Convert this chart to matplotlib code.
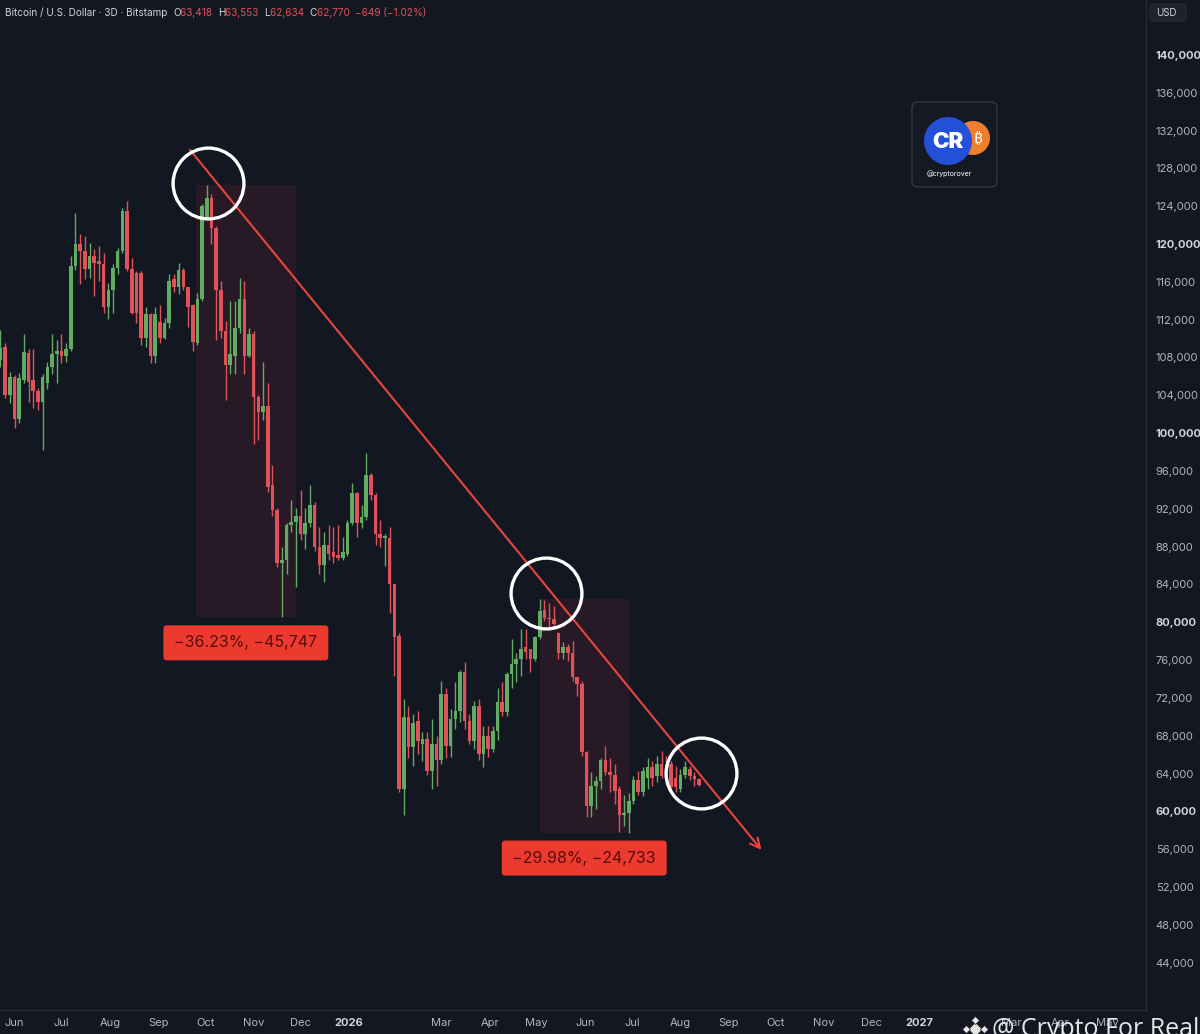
import numpy as np
import pandas as pd
import matplotlib
matplotlib.use('Agg')
import matplotlib.pyplot as plt
import matplotlib.dates as mdates
from matplotlib.patches import FancyBboxPatch, Circle

plt.rcParams['font.family'] = ['Inter', 'DejaVu Sans']

# BTC/USD 3D candles (Bitstamp), prices in thousands of USD
start_date = '2025-05-23'
opens = [107.7, 109.1, 104.0, 105.9, 101.5, 105.6, 108.5, 105.6, 104.5, 103.3,
         105.3, 107.0, 108.4, 108.7, 108.2, 108.9, 117.7, 120.0, 119.3, 117.4,
         118.7, 118.2, 117.9, 113.3, 115.1, 117.5, 119.3, 123.5, 117.4, 116.9,
         116.9, 110.1, 112.6, 108.2, 111.7, 110.1, 111.6, 116.3, 115.4, 117.2,
         115.4, 113.5, 109.5, 114.2, 122.7, 124.9, 121.7, 115.1, 110.8, 107.2,
         108.2, 111.1, 114.2, 108.2, 110.5, 103.8, 102.2, 102.9, 94.5, 91.9,
         86.3, 86.6, 90.3, 90.6, 91.2, 89.3, 90.5, 92.4, 88.0, 86.1,
         88.2, 87.4, 87.1, 86.8, 87.2, 90.5, 93.7, 90.5, 91.1, 95.6,
         93.5, 89.3, 88.9, 88.9, 84.0, 78.5, 62.4, 70.0, 66.8, 69.6,
         67.1, 67.7, 64.3, 67.1, 65.4, 72.4, 66.9, 69.8, 70.6, 74.7,
         69.6, 67.4, 71.1, 66.1, 68.0, 66.6, 68.5, 71.6, 70.5, 74.5,
         75.6, 76.1, 77.4, 77.2, 76.1, 78.4, 81.3, 80.5, 80.3, 78.9,
         76.8, 77.4, 76.8, 74.2, 73.5, 66.3, 60.6, 62.7, 63.2, 65.4,
         64.2, 63.8, 62.4, 59.6, 59.8, 61.1, 63.3, 62.1, 63.5, 64.7,
         63.7, 65.0, 64.9, 65.0, 63.5, 62.4, 63.8, 64.5, 63.7, 63.418]
highs = [110.9, 109.5, 106.5, 106.1, 106.4, 110.5, 108.9, 108.9, 104.8, 106.3,
         107.5, 110.5, 109.8, 110.5, 109.5, 118.7, 123.3, 121.1, 120.8, 120.1,
         119.5, 119.8, 119.0, 115.9, 117.9, 119.6, 123.8, 124.5, 118.5, 117.1,
         117.1, 113.3, 112.7, 113.3, 113.5, 112.2, 116.8, 116.8, 118.0, 117.5,
         115.4, 113.7, 114.8, 124.2, 126.272, 125.3, 121.9, 116.1, 111.9, 114.0,
         114.0, 116.4, 116.1, 111.1, 110.8, 104.0, 107.5, 105.3, 96.6, 92.1,
         88.0, 90.5, 92.9, 92.1, 94.0, 92.1, 94.5, 92.7, 90.1, 89.5,
         90.3, 90.1, 90.3, 89.0, 90.8, 94.7, 93.8, 92.4, 97.9, 95.8,
         93.7, 90.8, 89.3, 90.1, 84.0, 78.9, 71.9, 71.1, 70.3, 70.6,
         68.4, 68.4, 69.8, 68.0, 73.8, 73.1, 70.8, 73.7, 74.9, 75.8,
         70.3, 71.7, 71.9, 69.0, 69.0, 69.0, 73.1, 73.7, 74.7, 78.2,
         76.8, 79.3, 79.3, 77.2, 78.5, 82.5, 82.4, 82.0, 81.7, 79.0,
         77.9, 77.7, 78.0, 74.2, 73.8, 66.4, 64.2, 63.7, 65.6, 66.9,
         65.6, 65.0, 62.7, 61.7, 61.9, 63.7, 64.3, 64.7, 65.6, 65.3,
         65.9, 66.4, 65.9, 65.3, 64.8, 64.5, 65.3, 64.8, 64.2, 63.553]
lows = [107.0, 103.7, 103.2, 100.5, 101.1, 105.3, 103.3, 102.7, 102.4, 98.2,
        104.7, 106.3, 105.3, 107.4, 107.5, 108.7, 117.2, 115.8, 116.3, 116.4,
        114.5, 116.1, 112.7, 112.1, 112.7, 116.8, 119.1, 117.1, 112.6, 111.6,
        109.3, 109.1, 107.4, 107.4, 109.5, 110.0, 111.1, 114.9, 114.7, 115.1,
        111.2, 108.7, 109.3, 114.0, 122.6, 120.0, 109.8, 110.1, 103.5, 106.3,
        106.3, 110.6, 106.3, 108.0, 98.9, 99.3, 101.4, 93.8, 91.2, 85.8,
        80.525, 85.1, 89.5, 83.7, 88.7, 87.7, 90.1, 87.5, 85.1, 84.3,
        86.6, 86.3, 86.6, 86.6, 87.0, 90.3, 89.0, 90.0, 90.8, 92.9,
        88.2, 88.0, 85.9, 81.0, 74.3, 62.1, 59.6, 65.6, 64.8, 66.1,
        65.3, 63.8, 62.4, 62.7, 65.0, 65.6, 65.8, 68.7, 69.5, 68.7,
        67.1, 66.6, 65.4, 64.7, 65.8, 66.3, 67.5, 70.1, 70.1, 73.1,
        73.7, 74.3, 76.1, 74.7, 75.9, 78.2, 80.1, 79.5, 79.3, 76.1,
        76.1, 75.9, 73.8, 72.2, 65.9, 59.4, 59.4, 60.3, 62.4, 63.8,
        62.1, 60.8, 57.8, 58.5, 57.767, 60.8, 61.7, 61.6, 62.4, 62.7,
        63.1, 63.5, 63.5, 62.1, 62.1, 62.1, 63.5, 63.3, 62.7, 62.634]
closes = [109.0, 104.0, 105.9, 101.5, 105.8, 108.6, 105.4, 104.5, 103.3, 105.9,
          107.0, 108.4, 108.7, 108.2, 108.9, 117.7, 120.0, 119.3, 117.4, 118.7,
          118.0, 117.9, 113.3, 115.1, 117.5, 119.3, 123.5, 117.4, 112.7, 112.7,
          110.1, 112.6, 108.2, 112.6, 110.1, 111.6, 116.1, 115.4, 117.2, 115.4,
          113.3, 109.6, 114.2, 124.0, 124.9, 121.7, 115.1, 110.8, 107.2, 108.4,
          111.1, 114.2, 108.2, 110.5, 103.8, 102.2, 102.9, 94.3, 91.9, 86.3,
          86.6, 90.3, 90.6, 91.2, 89.3, 90.5, 92.4, 88.0, 86.1, 88.2,
          87.2, 86.9, 86.8, 87.4, 90.5, 93.7, 90.5, 91.1, 95.6, 93.5,
          89.3, 88.9, 89.1, 84.0, 78.4, 62.4, 70.0, 66.8, 69.3, 67.4,
          67.7, 64.3, 67.1, 65.4, 72.4, 66.9, 69.8, 70.6, 74.7, 69.6,
          67.4, 71.1, 66.1, 68.0, 66.6, 68.5, 71.6, 70.5, 74.5, 75.6,
          76.1, 77.2, 76.9, 76.1, 78.4, 81.2, 80.5, 80.3, 79.8, 76.8,
          77.4, 76.8, 74.2, 73.5, 66.3, 60.6, 62.7, 63.2, 65.4, 64.2,
          63.8, 62.2, 59.6, 59.8, 61.1, 63.3, 62.1, 64.3, 64.7, 63.5,
          65.0, 63.7, 64.2, 62.6, 62.6, 63.8, 64.7, 63.7, 63.419, 62.770]

# drawdown boxes: start, end, top, bottom
range_starts = ['2025-09-25', '2026-05-03']
range_ends = ['2025-11-28', '2026-06-29']
range_tops = [126272, 82500]
range_bottoms = [80525, 57767]

# white circles (date, price) and trend line (start, end)
circle_dates = ['2025-10-03', '2026-05-07', '2026-08-14']
circle_prices = [126500, 83100, 64100]
trend_dates = ['2025-09-20', '2026-09-23']
trend_prices = [130200, 55700]

price_ticks = list(range(44000, 140001, 4000))

bg = '#131722'
up = '#62ab62'
down = '#e0525a'
txt = '#b2b5be'
line_red = '#e8463c'

o = np.array(opens) * 1000
h = np.array(highs) * 1000
l = np.array(lows) * 1000
c = np.array(closes) * 1000
dates = pd.date_range(start_date, periods=len(o), freq='3D')
x = mdates.date2num(dates)

fig = plt.figure(figsize=(12, 10.34), dpi=100, facecolor=bg)
ax = fig.add_axes([0, 24 / 1034, 1146 / 1200, 1010 / 1034], facecolor=bg)

# shaded drawdown ranges + labels
for s, e, top, bot in zip(range_starts, range_ends, range_tops, range_bottoms):
    xs, xe = mdates.date2num(pd.Timestamp(s)), mdates.date2num(pd.Timestamp(e))
    ax.fill_between([xs, xe], bot, top, color='#f23645', alpha=0.09, lw=0, zorder=1)
    diff = bot - top
    pct = diff / top * 100
    label = f'{pct:.2f}%, {diff:,.0f}'.replace('-', '\u2212')
    xm = (xs + xe) / 2
    w, hh, gap = 105.5, 3700, 850
    box = FancyBboxPatch((xm - w / 2, bot - gap - hh), w, hh,
                         boxstyle='round,pad=0,rounding_size=2',
                         mutation_aspect=165, fc='#ec3a2f', ec='none', zorder=6)
    ax.add_patch(box)
    ax.text(xm, bot - gap - hh / 2, label, ha='center', va='center',
            fontsize=11.5, color='#5a0c0c', zorder=7)

# candles
colors = np.where(c >= o, up, down)
ax.vlines(x, l, h, colors=colors, lw=1.0, zorder=3)
ax.bar(x, np.maximum(np.abs(c - o), 150), bottom=np.minimum(o, c), width=2.3,
       color=colors, lw=0, zorder=4)

# trend arrow
ax.annotate('', xy=(mdates.date2num(pd.Timestamp(trend_dates[1])), trend_prices[1]),
            xytext=(mdates.date2num(pd.Timestamp(trend_dates[0])), trend_prices[0]),
            arrowprops=dict(arrowstyle='->,head_length=0.7,head_width=0.35',
                            color=line_red, lw=1.5), zorder=5)

# circles
ax.plot(mdates.date2num(pd.to_datetime(circle_dates)), circle_prices, 'o',
        ms=51, mfc='none', mec='white', mew=2.4, zorder=8)

ax.set_xlim(mdates.date2num(pd.Timestamp('2026-01-01')) - 223.3,
            mdates.date2num(pd.Timestamp('2026-01-01')) + 509.9)
ax.set_ylim(39000, 145800)

# axes styling
for sp in ['top', 'left']:
    ax.spines[sp].set_visible(False)
ax.spines['right'].set_color('#2a2e39')
ax.spines['bottom'].set_color('#2a2e39')
ax.yaxis.tick_right()
ax.set_yticks(price_ticks)
ax.set_yticklabels([f'{v:,}' for v in price_ticks])
ax.tick_params(axis='y', length=0, pad=7, labelsize=8, labelcolor=txt)
for t, v in zip(ax.get_yticklabels(), price_ticks):
    if v % 20000 == 0:
        t.set_fontweight('bold')
        t.set_color('#d1d4dc')

months = pd.date_range('2025-06-01', '2027-05-01', freq='MS')
months = [m for m in months if m.month != 2]
ax.set_xticks(mdates.date2num(months))
ax.set_xticklabels([str(m.year) if m.month == 1 else m.strftime('%b') for m in months])
ax.tick_params(axis='x', length=0, pad=6, labelsize=8, labelcolor=txt)
for t, m in zip(ax.get_xticklabels(), months):
    if m.month == 1:
        t.set_fontweight('bold')
        t.set_color('#d1d4dc')

# overlay in pixel coords for header, USD box, logo, watermark
ov = fig.add_axes([0, 0, 1, 1], facecolor='none')
ov.set_xlim(0, 1200)
ov.set_ylim(1034, 0)
ov.axis('off')

fig.canvas.draw()
r = fig.canvas.get_renderer()
chg = c[-1] - c[-2]
parts = [('Bitcoin / U.S. Dollar \u00b7 3D \u00b7 Bitstamp  ', '#d1d4dc'),
         ('O', '#d1d4dc'), (f'{o[-1]:,.0f}  ', down),
         ('H', '#d1d4dc'), (f'{h[-1]:,.0f}  ', down),
         ('L', '#d1d4dc'), (f'{l[-1]:,.0f}  ', down),
         ('C', '#d1d4dc'), (f'{c[-1]:,.0f}  ', down),
         (f'{chg:,.0f} ({chg / c[-2] * 100:.2f}%)'.replace('-', '\u2212'), down)]
px = 5
for s, col in parts:
    t = ov.text(px, 13, s, fontsize=7.2, color=col, va='center', ha='left')
    bb = t.get_window_extent(renderer=r)
    px += bb.width

ov.add_patch(FancyBboxPatch((1150, 4), 36, 17, boxstyle='round,pad=0,rounding_size=3',
                            fc='#1e222d', ec='#2a2e39', lw=0.8))
ov.text(1156, 12.5, 'USD', fontsize=7, color='#d1d4dc', va='center')

# logo
ov.add_patch(FancyBboxPatch((912, 102), 85, 85, boxstyle='round,pad=0,rounding_size=6',
                            fc='#151924', ec='#3a3e4a', lw=0.8))
ov.add_patch(Circle((973, 138), 17, fc='#ee7f2d', ec='none'))
ov.text(978, 138, '\u20bf', fontsize=11, color='white', ha='center', va='center',
        fontweight='bold', family=['DejaVu Sans', 'Noto Sans'])
ov.add_patch(Circle((948, 141), 24, fc='#2350d8', ec='none'))
ov.text(948, 142, 'CR', fontsize=16, color='white', ha='center', va='center',
        fontweight='black')
ov.text(949, 174, '@cryptorover', fontsize=5, color='white', ha='center', va='center')

# watermark
wm_x, wm_y = 975, 1029
for dx, dy, s in [(0, 0, 7), (-9, 0, 4), (9, 0, 4), (0, -9, 4), (0, 9, 4)]:
    ov.plot(wm_x + dx, wm_y + dy, 'D', ms=s, mfc='#e6e6e6', mec='#222', mew=0.5)
ov.text(992, 1030, '@ Crypto For Real', fontsize=18, color='#e6e6e6', va='center',
        ha='left', family=['Open Sans', 'DejaVu Sans'])

fig.savefig('out.png', dpi=100, facecolor=bg)
